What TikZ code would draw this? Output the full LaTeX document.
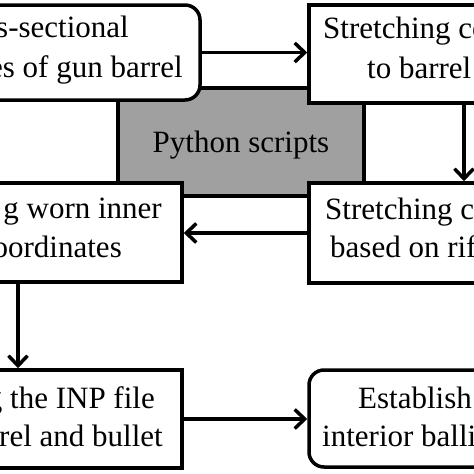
\documentclass[tikz,border=0pt]{standalone}
\usepackage{fontspec}
\setmainfont{Liberation Serif}
\usetikzlibrary{arrows.meta}
\definecolor{panelgray}{HTML}{A0A0A0}
\begin{document}
\begin{tikzpicture}[x=1pt,y=-1pt,
  box/.style={draw=black,line width=3.5pt,fill=white,inner sep=0pt},
  rbox/.style={box,rounded corners=15pt},
  panel/.style={draw=black,line width=3.5pt,fill=panelgray,inner sep=0pt},
  txt/.style={inner sep=0pt,font=\fontsize{31}{36}\selectfont},
  arr/.style={draw=black,line width=3.5pt,-{Straight Barb[length=10pt,width=19pt]}}]
\useasboundingbox (0,0) rectangle (474,474);
\clip (0,0) rectangle (474,474);
\fill[white] (0,0) rectangle (474,474);
% background panel
\node[panel,minimum width=246pt,minimum height=108pt] (py) at (241,142) {};
\node[txt,anchor=base] (pyt) at (241,152) {Python scripts};
% boxes
\node[rbox,minimum width=300pt,minimum height=95pt] (b1) at (50,52.5) {};
\node[box,minimum width=310pt,minimum height=98pt] (b2) at (464,54) {};
\node[box,minimum width=328pt,minimum height=99pt] (b3) at (18,232.5) {};
\node[box,minimum width=310pt,minimum height=100pt] (b4) at (464,233) {};
\node[box,minimum width=328pt,minimum height=98pt] (b5) at (18,419) {};
\node[rbox,minimum width=310pt,minimum height=97pt] (b6) at (464,418.5) {};
% texts
\node[txt,anchor=base west] (t1a) at (-4,37) {s-sectional};
\node[txt,anchor=base east] (t1b) at (183,77) {es of gun barrel};
\node[txt,anchor=base west] (t2a) at (323,38) {Stretching co};
\node[txt,anchor=base west] (t2b) at (367,78) {to barrel};
\node[txt,anchor=base east] (t3a) at (162,218) {g worn inner};
\node[txt,anchor=base east] (t3b) at (122,257) {oordinates};
\node[txt,anchor=base west] (t4a) at (325,219) {Stretching c};
\node[txt,anchor=base west] (t4b) at (330,257) {based on rif};
\node[txt,anchor=base east] (t5a) at (155,408) {g the INP file};
\node[txt,anchor=base east] (t5b) at (163,446) {rel and bullet};
\node[txt,anchor=base west] (t6a) at (358,408) {Establish};
\node[txt,anchor=base west] (t6b) at (322,446) {interior balli};
% connectors
\draw[arr] (b1.east) -- (b2.west |- b1.east);
\draw[arr] (b2.south) -- (b4.north);
\draw[arr] (b4.west) -- (b3.east |- b4.west);
\draw[arr] (b3.south) -- (b5.north);
\draw[arr] (b5.east) -- (b6.west |- b5.east);
\end{tikzpicture}
\end{document}
